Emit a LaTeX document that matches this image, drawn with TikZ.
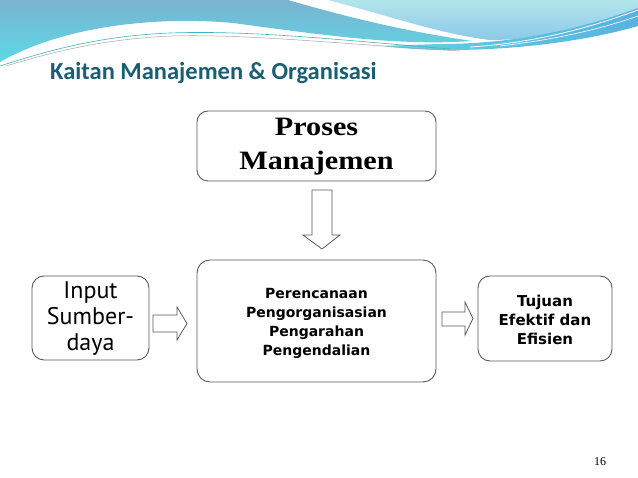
\documentclass[tikz,border=0pt]{standalone}
\usepackage{fontspec}
\setmainfont{Liberation Serif}
\newfontfamily\titlefont{Carlito}
\newfontfamily\verdanafont{DejaVu Sans}
\newfontfamily\handfont{PT Sans}
\newfontfamily\antiquafont[FakeStretch=1.14]{Liberation Serif}
\definecolor{titleteal}{HTML}{1B5E72}
\definecolor{boxgrey}{HTML}{5A5A5A}
\definecolor{steel}{HTML}{7AB3D0}
\definecolor{cyanbright}{HTML}{5CD9E6}
\definecolor{palecyan}{HTML}{B2E5EB}
\definecolor{paleblue}{HTML}{8CC9E9}
\definecolor{bandA}{HTML}{62D2E2}
\definecolor{bandB}{HTML}{58B2E0}
\definecolor{lineteal}{HTML}{3FB3C4}
\tikzset{
  rbox/.style={draw=boxgrey, line width=0.9pt, rounded corners=11pt, fill=white},
  blockarrow/.style={draw=boxgrey, line width=0.8pt, fill=white, line join=miter},
}
\begin{document}
\begin{tikzpicture}[x=1pt,y=-1pt]
\useasboundingbox (0,0) rectangle (638,478);
\fill[white] (0,0) rectangle (638,478);
% header waves
\shade[top color=steel, bottom color=cyanbright]
  (0,0) -- (288,0) .. controls (330,12) and (390,29) .. (472,41)
  .. controls (400,46) and (330,36) .. (233,23) .. controls (170,17) and (70,22) .. (0,62) -- cycle;
\shade[top color=palecyan, bottom color=paleblue]
  (328,0) -- (638,0) -- (638,8) .. controls (600,24) and (545,40) .. (490,40)
  .. controls (440,34) and (390,16) .. (328,0) -- cycle;
\shade[left color=bandA, right color=bandB]
  (440,44) .. controls (530,44) and (600,22) .. (638,8) -- (638,26)
  .. controls (590,40) and (520,50) .. (450,50) .. controls (420,50) and (400,48) .. (380,46) -- cycle;
\draw[lineteal, line width=0.6pt] (0,66) .. controls (50,50) and (100,36) .. (170,33) .. controls (250,30) and (340,40) .. (450,49);
\draw[gray!70, line width=0.5pt] (6,66) .. controls (56,51) and (104,39) .. (172,36) .. controls (250,34) and (340,44) .. (460,51);
\draw[white, line width=0.8pt] (470,47) .. controls (550,42) and (610,20) .. (638,10);
\draw[white, line width=0.6pt] (500,46) .. controls (570,38) and (615,24) .. (638,16);
% title
\node[anchor=base west, inner sep=0pt, text=titleteal,
  font=\titlefont\bfseries\fontsize{24.5}{28}\selectfont] (title) at (50,80)
  {Kaitan Manajemen \& Organisasi};
% boxes
\draw[rbox] (197,111) rectangle (436,181);
\node[align=center, inner sep=0pt, font=\antiquafont\bfseries\fontsize{26.5}{34}\selectfont] (proses) at (316.5,147)
  {Proses\\Manajemen};
\draw[rbox, rounded corners=13pt] (197,260) rectangle (436,382);
\node[align=center, inner sep=0pt, font=\verdanafont\bfseries\fontsize{14}{19}\selectfont] (fungsi) at (316.5,323)
  {Perencanaan\\Pengorganisasian\\Pengarahan\\Pengendalian};
\draw[rbox, rounded corners=12pt] (32,276) rectangle (149,360);
\node[align=center, inner sep=0pt, font=\handfont\fontsize{24}{26}\selectfont] (input) at (90.5,319)
  {Input\\Sumber-\\daya};
\draw[rbox, rounded corners=12pt] (478,276) rectangle (612,361);
\node[align=center, inner sep=0pt, font=\verdanafont\bfseries\fontsize{15}{18.7}\selectfont] (tujuan) at (545,320)
  {Tujuan\\Efektif dan\\Efisien};
% block arrows
\draw[blockarrow] (312,190) -- (332,190) -- (332,235) -- (340,235) -- (322,249) -- (303,235) -- (312,235) -- cycle;
\draw[blockarrow] (153,315) -- (177,315) -- (177,307) -- (187,323.5) -- (177,340) -- (177,332) -- (153,332) -- cycle;
\draw[blockarrow] (442,312) -- (465,312) -- (465,302) -- (473,318.5) -- (465,335) -- (465,326) -- (442,326) -- cycle;
% page number
\node[anchor=base, inner sep=0pt, font=\fontsize{12}{14}\selectfont] (page) at (600,466) {16};
\end{tikzpicture}
\end{document}
